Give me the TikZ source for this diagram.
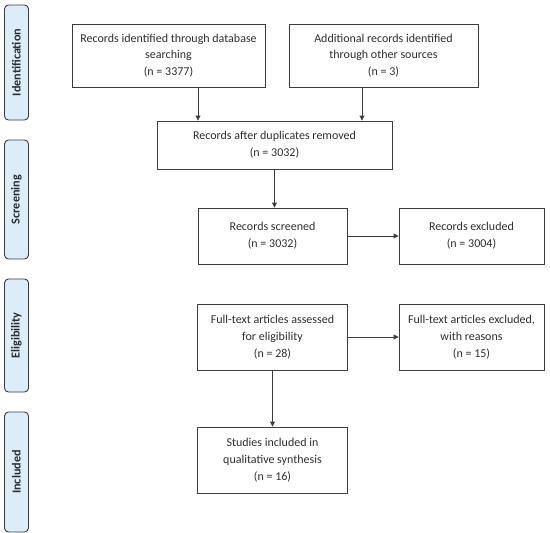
\documentclass[tikz,border=0pt]{standalone}
\usepackage{fontspec}
\setmainfont{Carlito}
\usetikzlibrary{arrows.meta}
\definecolor{tabblue}{RGB}{218,237,249}
\definecolor{linegray}{RGB}{60,60,60}
\definecolor{textgray}{RGB}{45,45,45}
\begin{document}
\begin{tikzpicture}[x=1pt,y=-1pt,
  box/.style={draw=linegray, line width=0.9pt, align=center, inner sep=0pt,
    font=\fontsize{12}{16.7}\selectfont, text=textgray},
  tab/.style={draw=linegray, fill=tabblue, rounded corners=4pt, line width=0.9pt,
    font=\bfseries\fontsize{12.2}{13}\selectfont, text=textgray, rotate=90, inner sep=0pt,
    minimum height=24pt},
  arr/.style={-{Triangle[length=5pt,width=5pt]}, line width=0.9pt, draw=linegray}]
\useasboundingbox (0,0) rectangle (550,533);
% phase tabs
\node[tab, minimum width=115pt] (t1) at (16.5,62.5) {Identification};
\node[tab, minimum width=119pt] (t2) at (16.5,199.5) {Screening};
\node[tab, minimum width=113pt] (t3) at (16.5,335.5) {Eligibility};
\node[tab, minimum width=120pt] (t4) at (16.5,472) {Included};
% boxes
\node[box, minimum width=193pt, minimum height=63pt] (b1) at (168.5,55.5)
  {Records identified through database\\searching\\(n = 3377)};
\node[box, minimum width=189pt, minimum height=63pt] (b2) at (383.5,55.5)
  {Additional records identified\\through other sources\\(n = 3)};
\node[box, minimum width=235pt, minimum height=48pt] (b3) at (274.5,145)
  {Records after duplicates removed\\(n = 3032)};
\node[box, minimum width=149pt, minimum height=56pt] (b4) at (272.5,236)
  {Records screened\\(n = 3032)};
\node[box, minimum width=145pt, minimum height=56pt] (b5) at (471.5,236)
  {Records excluded\\(n = 3004)};
\node[box, minimum width=150pt, minimum height=66pt] (b6) at (272.5,337)
  {Full-text articles assessed\\for eligibility\\(n = 28)};
\node[box, minimum width=145pt, minimum height=66pt] (b7) at (471.5,337)
  {Full-text articles excluded,\\with reasons\\(n = 15)};
\node[box, minimum width=150pt, minimum height=66pt] (b8) at (272.5,460)
  {Studies included in\\qualitative synthesis\\(n = 16)};
% connectors
\draw[arr] ([xshift=29.5pt]b1.south) -- ([xshift=29.5pt]b1.south |- b3.north);
\draw[arr] ([xshift=-21.5pt]b2.south) -- ([xshift=-21.5pt]b2.south |- b3.north);
\draw[arr] (b3.south) -- (b3.south |- b4.north);
\draw[arr] (b4.east) -- (b5.west);
\draw[arr] (b6.east) -- (b7.west);
\draw[arr] (b6.south) -- (b8.north);
\end{tikzpicture}
\end{document}
